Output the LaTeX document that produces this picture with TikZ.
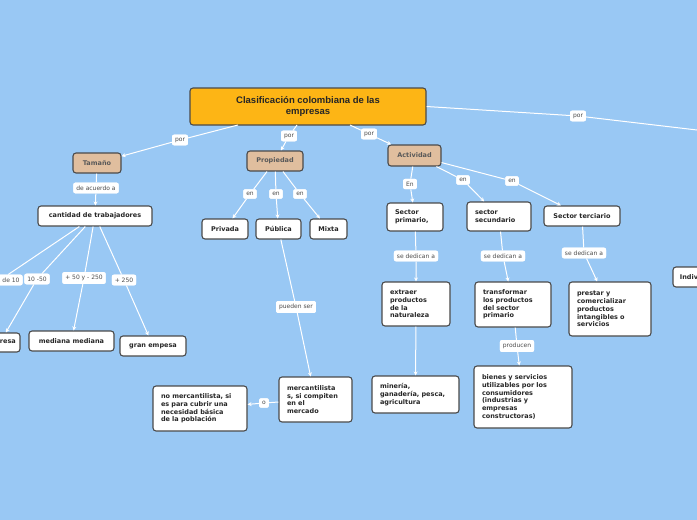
\documentclass[tikz,border=0pt]{standalone}
\usepackage{fontspec}
\setmainfont{DejaVu Sans}
\newfontfamily\titlefont{Liberation Sans}
\usetikzlibrary{arrows.meta}
\definecolor{bg}{HTML}{99C8F4}
\definecolor{tan}{HTML}{E0BE9E}
\definecolor{org}{HTML}{FDB515}
\definecolor{bord}{HTML}{4A4A4A}
\tikzset{
 box/.style={draw=bord,line width=1.1pt,rounded corners=3pt,fill=white,font=\fontsize{6.5}{7.8}\selectfont\bfseries,text=black!85,inner sep=4pt,align=center},
 mbox/.style={box,align=left,inner xsep=8pt},
 cat/.style={box,fill=tan,text=black!65},
 lbl/.style={fill=white,rounded corners=2pt,font=\fontsize{6}{6.5}\selectfont,text=black!70,inner sep=3pt},
 con/.style={draw=white,line width=1pt,-{Stealth[length=4pt,width=4pt]}},
 ln/.style={draw=white,line width=1pt}
}
\begin{document}
\begin{tikzpicture}[x=1pt,y=-1pt]
\fill[bg] (0,0) rectangle (697,520);
\useasboundingbox (0,0) rectangle (697,520);
\node[box,fill=org,font=\titlefont\fontsize{9.5}{10.5}\selectfont\bfseries,minimum width=236pt,minimum height=37pt] (t) at (308,106.5) {Clasificación colombiana de las\\empresas};
\node[cat,minimum width=48pt,minimum height=20pt] (tam) at (97,163) {Tamaño};
\node[cat,minimum width=56pt,minimum height=20pt] (pro) at (275,161) {Propiedad};
\node[cat,minimum width=53pt,minimum height=21pt] (act) at (414.5,155.5) {Actividad};
\node[box,minimum width=114pt,minimum height=20pt] (cant) at (95,216) {cantidad de trabajadores};
\node[box,minimum width=46pt,minimum height=20pt] (pri) at (225,229) {Privada};
\node[box,minimum width=45pt,minimum height=20pt] (pub) at (278.5,229) {Pública};
\node[box,minimum width=37pt,minimum height=20pt] (mix) at (328.5,229) {Mixta};
\node[box,minimum width=40pt,minimum height=19pt] (peq) at (0,342.5) {empresa};
\node[box,minimum width=85pt,minimum height=20pt] (med) at (71.5,341) {mediana mediana};
\node[box,minimum width=66pt,minimum height=20pt] (gran) at (153,346) {gran empesa};
\node[mbox,text width=57pt,minimum height=45pt] (merc) at (315.5,399.5) {mercantilista\\s, si compiten\\en el\\mercado};
\node[mbox,text width=78pt,minimum height=45pt] (nom) at (200,408.5) {no mercantilista, si\\es para cubrir una\\necesidad básica\\de la población};
\node[mbox,text width=40pt,minimum height=28pt] (sp) at (415,217) {Sector\\primario,};
\node[mbox,text width=48pt,minimum height=29pt] (ss) at (499,216.5) {sector\\secundario};
\node[box,minimum width=76pt,minimum height=20pt] (st) at (582,216) {Sector terciario};
\node[mbox,text width=52pt,minimum height=44pt] (ext) at (416,304) {extraer\\productos\\de la\\naturaleza};
\node[mbox,text width=60pt,minimum height=45pt] (tra) at (513,304.5) {transformar\\los productos\\del sector\\primario};
\node[mbox,text width=66pt,minimum height=54pt] (pre) at (610,309) {prestar y\\comercializar\\productos\\intangibles o\\servicios};
\node[mbox,text width=71pt,minimum height=37pt] (min) at (415.5,394.5) {minería,\\ganadería, pesca,\\agricultura};
\node[mbox,text width=82pt,minimum height=62pt] (bie) at (523,397) {bienes y servicios\\utilizables por los\\consumidores\\(industrias y\\empresas\\constructoras)};
\node[box,minimum width=50pt,minimum height=20pt] (ind) at (698,277) {Individual};
\coordinate (re) at (697,130);
\node[lbl] (l1) at (180,140) {por};
\node[lbl] (l2) at (289,136) {por};
\node[lbl] (l3) at (369,134) {por};
\node[lbl] (l4) at (578,116) {por};
\node[lbl] (l5) at (96,188) {de acuerdo a};
\node[lbl] (e1) at (250,194) {en};
\node[lbl] (e2) at (276,194) {en};
\node[lbl] (e3) at (300,194) {en};
\node[lbl] (k1) at (0,280) {menos de 10};
\node[lbl] (k2) at (37,279) {10 -50};
\node[lbl] (k3) at (84,278) {+ 50 y - 250};
\node[lbl] (k4) at (124,280) {+ 250};
\node[lbl] (ps) at (296,307) {pueden ser};
\node[lbl] (lo) at (264,403) {o};
\node[lbl] (a1) at (410,184) {En};
\node[lbl] (a2) at (463,180) {en};
\node[lbl] (a3) at (512,181) {en};
\node[lbl] (d1) at (416,256) {se dedican a};
\node[lbl] (d2) at (503,256) {se dedican a};
\node[lbl] (d3) at (584,253) {se dedican a};
\node[lbl] (pr) at (517,346) {producen};
\draw[ln] (238,125) -- (l1); \draw[con] (l1) -- (tam);
\draw[ln] (297,125) -- (l2); \draw[con] (l2) -- (pro);
\draw[ln] (350,125) -- (l3); \draw[con] (l3) -- (act);
\draw[ln] (t.east) -- (l4); \draw[ln] (l4) -- (re);
\draw[con] (tam) -- (l5) -- (cant);
\draw[con] (pro) -- (e1) -- (pri);
\draw[con] (pro) -- (e2) -- (pub);
\draw[con] (pro) -- (e3) -- (mix);
\draw[ln] (cant) -- (k1); \draw[ln] (k1) -- (-10,290);
\draw[con] (cant) -- (k2) -- (peq);
\draw[con] (cant) -- (k3) -- (med);
\draw[con] (cant) -- (k4) -- (gran);
\draw[con] (pub) -- (ps) -- (merc);
\draw[con] (merc) -- (lo) -- (nom);
\draw[con] (act) -- (a1) -- (sp);
\draw[con] (act) -- (a2) -- (ss);
\draw[con] (act) -- (a3) -- (st);
\draw[con] (sp) -- (d1) -- (ext);
\draw[con] (ss) -- (d2) -- (tra);
\draw[con] (st) -- (d3) -- (pre);
\draw[con] (ext) -- (min);
\draw[con] (tra) -- (pr) -- (bie);
\foreach \n/\t in {l1/por,l2/por,l3/por,l4/por,e1/en,e2/en,e3/en,k1/menos de 10,k2/10 -50,k3/+ 50 y - 250,k4/+ 250,ps/pueden ser,lo/o,a1/En,a2/en,a3/en,d1/se dedican a,d2/se dedican a,d3/se dedican a,pr/producen,l5/de acuerdo a}
  \node[lbl] at (\n) {\t};
\end{tikzpicture}
\end{document}
